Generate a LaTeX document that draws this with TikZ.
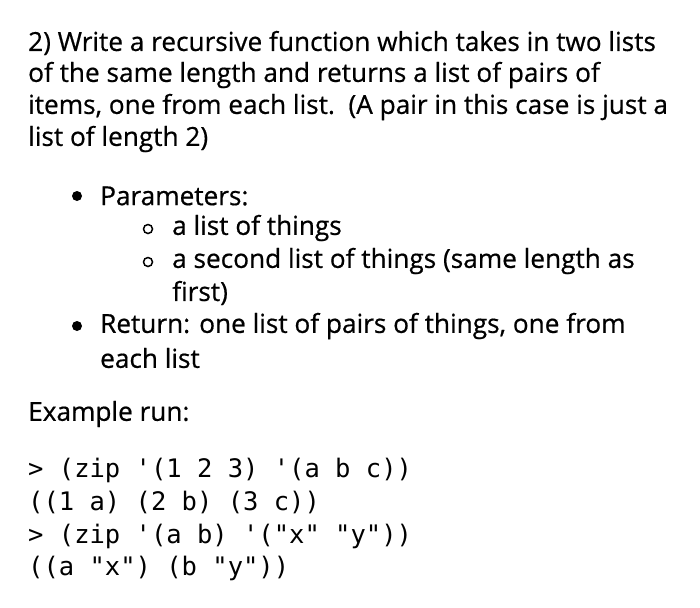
\documentclass[tikz,border=0pt]{standalone}
\usepackage{fontspec}
\setmainfont{Open Sans}[FakeBold=0.6]
\setmonofont{DejaVu Sans Mono}
\begin{document}
\begin{tikzpicture}[x=1pt,y=-1pt,
  txt/.style={anchor=west,inner sep=0pt,font=\fontsize{26.2}{30}\selectfont},
  code/.style={anchor=west,inner sep=0pt,font=\ttfamily\fontsize{25.5}{30}\selectfont}]
\fill[white] (0,0) rectangle (700,607);
\node[txt] (l1) at (28,43) {2) Write a recursive function which takes in two lists};
\node[txt] (l2) at (28,75) {of the same length and returns a list of pairs of};
\node[txt] (l3) at (28,107) {items, one from each list.\ \ (A pair in this case is just a};
\node[txt] (l4) at (28,139) {list of length 2)};
\fill (77,196) circle (5);
\node[txt] (p) at (100,196) {Parameters:};
\draw[line width=1.5] (148,229) circle (4.5);
\node[txt] (p1) at (172,228) {a list of things};
\draw[line width=1.5] (148,262) circle (4.5);
\node[txt] (p2) at (172,261) {a second list of things (same length as};
\node[txt] (p3) at (172,293) {first)};
\fill (77,326) circle (5);
\node[txt] (r) at (100,326) {Return: one list of pairs of things, one from};
\node[txt] (r2) at (100,358) {each list};
\node[txt] (ex) at (28,414) {Example run:};
\node[code] (c1) at (28,470) {> (zip '(1 2 3) '(a b c))};
\node[code] (c2) at (28,502) {((1 a) (2 b) (3 c))};
\node[code] (c3) at (28,536) {> (zip '(a b) '("x" "y"))};
\node[code] (c4) at (28,568) {((a "x") (b "y"))};
\end{tikzpicture}
\end{document}
